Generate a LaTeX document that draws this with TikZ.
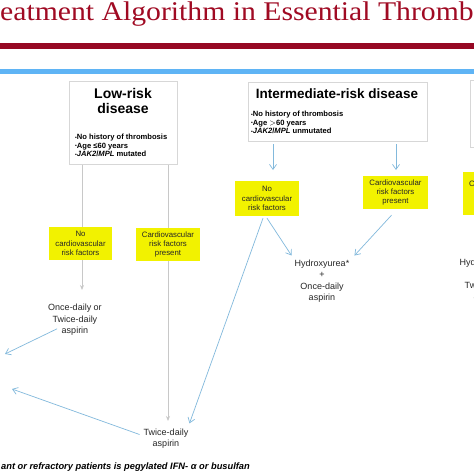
\documentclass[tikz,border=0pt]{standalone}
\usepackage{graphicx}
\usepackage{fontspec}
\setmainfont{Liberation Sans}
\newfontfamily\titlefont{Liberation Serif}
\usetikzlibrary{arrows.meta,calc}
\definecolor{titlered}{RGB}{160,10,35}
\definecolor{rulered}{RGB}{150,8,35}
\definecolor{ruleblue}{RGB}{95,180,245}
\definecolor{boxgray}{RGB}{215,215,215}
\definecolor{linegray}{RGB}{200,200,200}
\definecolor{arrowblue}{RGB}{130,185,220}
\definecolor{ybox}{RGB}{242,242,0}
\newcommand{\bul}{{\fontsize{5}{5}\selectfont\raisebox{0.4pt}{•}}}
\begin{document}
\begin{tikzpicture}[x=1pt,y=-1pt,
  riskbox/.style={draw=boxgray, line width=0.8pt, fill=white, inner sep=0pt},
  risktitle/.style={align=center, inner sep=0pt, font=\fontsize{14}{15}\selectfont\bfseries},
  bullets/.style={align=left, anchor=west, inner sep=0pt, font=\fontsize{7.6}{8.6}\selectfont\bfseries},
  yellowbox/.style={fill=ybox, inner sep=0pt, align=center, text=black!85, font=\fontsize{7.8}{9.4}\selectfont},
  treat/.style={align=center, inner sep=1pt, text=black!85, font=\fontsize{9}{11.4}\selectfont},
  grayarrow/.style={draw=linegray, line width=0.9pt, -{Stealth[length=5pt,width=4pt]}},
  bluearrow/.style={draw=arrowblue, line width=0.7pt, -{Straight Barb[length=5pt,width=7pt]}}
]
\useasboundingbox (0,0) rectangle (474,474);
\clip (0,0) rectangle (474,474);
\fill[white] (0,0) rectangle (474,474);

% title and rules
\node[anchor=base west, inner sep=0pt, text=titlered, font=\titlefont\fontsize{27}{27}\selectfont] (title) at (0,20) {\scalebox{1.1}[1]{eatment Algorithm in Essential Thromb}};
\fill[rulered] (0,43) rectangle (474,49);
\fill[ruleblue] (0,68.5) rectangle (474,73.5);

% gray connectors of low-risk (behind boxes)
\coordinate (ga1) at (82,164);
\coordinate (ga2) at (82,290);
\coordinate (gb1) at (168,164);
\coordinate (gb2) at (168,421);
\draw[grayarrow] (ga1) -- (ga2);
\draw[grayarrow] (gb1) -- (gb2);

% risk boxes
\node[riskbox, minimum width=108pt, minimum height=83pt] (low) at (123,122.5) {};
\node[risktitle] (lowtitle) at (123,100.5) {Low-risk\\disease};
\node[bullets] (lowbul) at (75,145.5) {\bul No history of thrombosis\\\bul Age \char"2264 60 years\\\bul\textit{JAK2}/\textit{MPL} mutated};

\node[riskbox, minimum width=179pt, minimum height=59pt] (int) at (337.5,111.5) {};
\node[risktitle, font=\fontsize{13.5}{15}\selectfont\bfseries] (inttitle) at (337,93.5) {Intermediate-risk disease};
\node[bullets] (intbul) at (251,122.5) {\bul No history of thrombosis\\\bul Age $>$60 years\\\bul\textit{JAK2}/\textit{MPL} unmutated};

\node[riskbox, minimum width=60pt, minimum height=67pt, anchor=north west] (high) at (470,80) {};

% yellow boxes
\node[yellowbox, minimum width=63pt, minimum height=33pt] (y1) at (80.5,243.5) {No\\cardiovascular\\risk factors};
\node[yellowbox, minimum width=64pt, minimum height=33pt] (y2) at (168,244.5) {Cardiovascular\\risk factors\\present};
\node[yellowbox, minimum width=64pt, minimum height=35pt] (y3) at (267,198.5) {No\\cardiovascular\\risk factors};
\node[yellowbox, minimum width=65pt, minimum height=33pt] (y4) at (395.5,192.5) {Cardiovascular\\risk factors\\present};
\node[yellowbox, minimum width=64pt, minimum height=43pt, anchor=north west] (y5) at (463,172) {Cardiovascular\\risk factors\\present};

% treatments
\node[treat] (t1) at (75,320) {Once-daily or\\Twice-daily\\aspirin};
\node[treat] (t2) at (166,438.5) {Twice-daily\\aspirin};
\node[treat] (t3) at (322,281) {Hydroxyurea*\\+\\Once-daily\\aspirin};
\node[treat] (t4) at (487,280) {Hydroxyurea*\\+\\Twice-daily\\aspirin};

% blue connectors
\coordinate (lft1) at (5,354);
\coordinate (lft2) at (12,389);
\draw[bluearrow] (int.south -| 273,0) ++(0,3) -- (273,170);
\draw[bluearrow] (int.south -| 396,0) ++(0,3) -- (396,170);
\draw[bluearrow] ($(y3.south)+(0,2)$) -- ($(t3.north west)+(-2,-3)$);
\draw[bluearrow] ($(y4.south)+(-4,6)$) -- ($(t3.north east)+(4,-3)$);
\draw[bluearrow] ($(y3.south)+(-4,2)$) -- ($(t2.north east)+(0,-4)$);
\draw[bluearrow] ($(t1.south west)+(10,-8)$) -- (lft1);
\draw[bluearrow] ($(t2.west)+(-3,-4)$) -- (lft2);

% footer
\node[anchor=west, inner sep=0pt, font=\fontsize{9.3}{11}\selectfont\bfseries\itshape] (foot) at (1,467) {ant or refractory patients is pegylated IFN- α or busulfan};
\end{tikzpicture}
\end{document}
